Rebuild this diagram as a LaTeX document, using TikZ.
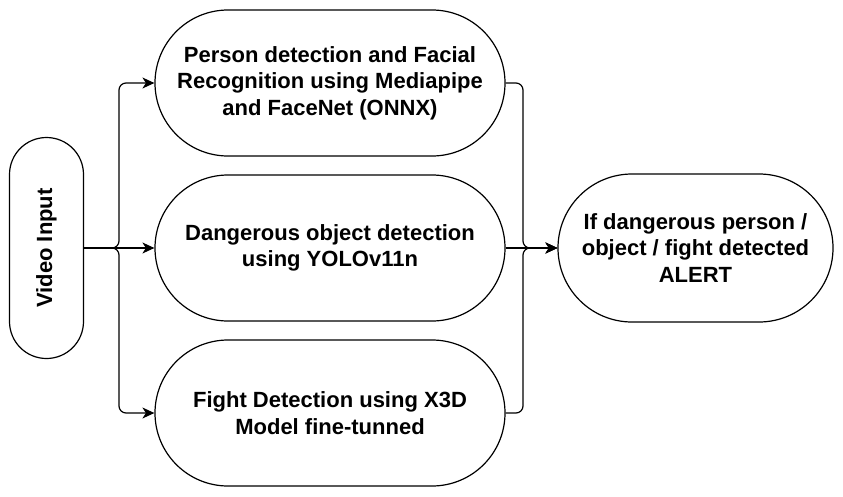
\documentclass[tikz,border=0pt]{standalone}
\usepackage{fontspec}
\setmainfont{Liberation Sans}
\usetikzlibrary{arrows.meta}
\begin{document}
\begin{tikzpicture}[x=1pt,y=-1pt,
  pill/.style={draw, line width=1.2pt, fill=white, inner sep=0pt, align=center,
    font=\bfseries\fontsize{22}{26.5}\selectfont},
  link/.style={line width=1.2pt, rounded corners=7pt},
  arr/.style={link, -{Stealth[length=12pt,width=11pt,inset=3.5pt]}}]
\useasboundingbox (0,0) rectangle (843,496);
\node[pill, minimum width=74pt, minimum height=221pt, rounded corners=37pt] (vid) at (46.5,248) {};
\node[rotate=90, font=\bfseries\fontsize{22}{26.5}\selectfont] (vidt) at (vid.center) {Video Input};
\node[pill, minimum width=350pt, minimum height=146pt, rounded corners=73pt] (p1) at (330,83)
  {Person detection and Facial\\Recognition using Mediapipe\\and FaceNet (ONNX)};
\node[pill, minimum width=350pt, minimum height=146pt, rounded corners=73pt] (p2) at (330,248)
  {Dangerous object detection\\using YOLOv11n};
\node[pill, minimum width=350pt, minimum height=146pt, rounded corners=73pt] (p3) at (330,413)
  {Fight Detection using X3D\\Model fine-tunned};
\node[pill, minimum width=275pt, minimum height=148pt, rounded corners=74pt] (al) at (695.5,248)
  {If dangerous person /\\object / fight detected\\ALERT};
\coordinate (jl) at (119,248);
\coordinate (jr) at (523,248);
\draw[arr] (vid.east) -- (jl) |- (p1.west);
\draw[arr] (vid.east) -- (p2.west);
\draw[arr] (vid.east) -- (jl) |- (p3.west);
\draw[arr] (p1.east) -| (jr) -- (al.west);
\draw[arr] (p2.east) -- (al.west);
\draw[arr] (p3.east) -| (jr) -- (al.west);
\end{tikzpicture}
\end{document}
